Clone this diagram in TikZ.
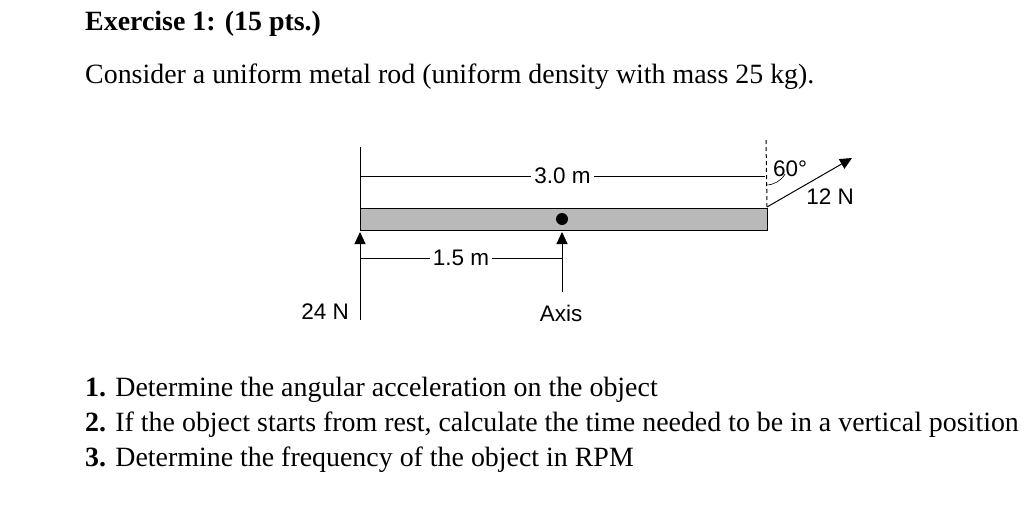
\documentclass[tikz,border=0pt]{standalone}
\usepackage{fontspec}
\setmainfont{Liberation Serif}
\newfontfamily\lsans{Liberation Sans}
\usetikzlibrary{arrows.meta}
\begin{document}
\begin{tikzpicture}[x=1pt,y=-1pt,
  txt/.style={anchor=west,inner sep=0pt,font=\fontsize{27.9}{30}\selectfont},
  lbl/.style={inner sep=3pt,fill=white,font=\lsans\fontsize{22.5}{24}\selectfont},
  ln/.style={line width=1pt},
  arr/.style={ln,-{Triangle[length=12pt,width=11pt]}}]
\useasboundingbox (0,0) rectangle (1024,520);
\node[txt] (t1) at (85,24) {\textbf{Exercise 1: (15 pts.)}};
\node[txt] (t2) at (85,77) {Consider a uniform metal rod (uniform density with mass 25 kg).};
\node[txt] (q1) at (85,390) {\textbf{1.} Determine the angular acceleration on the object};
\node[txt] (q2) at (85,425) {\textbf{2.} If the object starts from rest, calculate the time needed to be in a vertical position};
\node[txt] (q3) at (85,460) {\textbf{3.} Determine the frequency of the object in RPM};
% rod
\draw[ln,fill=gray!55] (360,208) rectangle (767,230);
\fill (562,219) circle (6);
% left line and force
\coordinate (ltop) at (360,147);
\coordinate (lbot) at (360,320);
\coordinate (lhead) at (360,232);
\draw[ln] (ltop) -- (360,208);
\draw[arr] (lbot) -- (lhead);
\node[lbl,anchor=east] (f24) at (352,312) {24 N};
% axis
\coordinate (abot) at (562,292);
\coordinate (ahead) at (562,232);
\draw[arr] (abot) -- (ahead);
\node[lbl] (ax) at (561,313) {Axis};
% dimension lines
\coordinate (d3a) at (360,176);
\coordinate (d3b) at (765,176);
\draw[ln] (d3a) -- node[lbl] (l3) {3.0 m} (d3b);
\coordinate (d1a) at (360,258);
\coordinate (d1b) at (562,258);
\draw[ln] (d1a) -- node[lbl] (l1) {1.5 m} (d1b);
% dashed
\coordinate (dtop) at (766,140);
\coordinate (rend) at (767,207);
\draw[ln,dash pattern=on 4pt off 3pt] (dtop) -- (rend);
\coordinate (ftip) at (852,158);
\draw[arr] (rend) -- (ftip);
\draw[line width=0.6pt] (766,185) arc[start angle=90,end angle=30,radius=22];
\node[lbl,fill=none] (a60) at (790,169) {60\textdegree};
\node[lbl,fill=none] (f12) at (830,197) {12 N};
\end{tikzpicture}
\end{document}
